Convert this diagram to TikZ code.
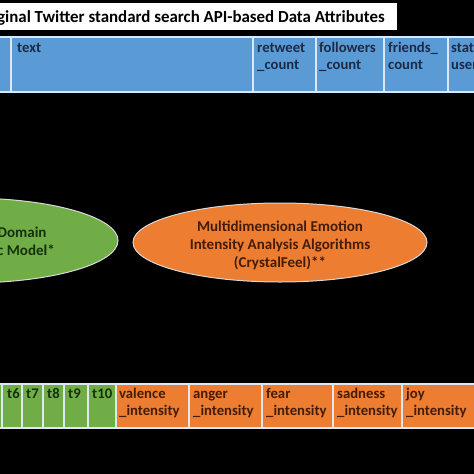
\documentclass[tikz,border=0pt]{standalone}
\usepackage{fontspec}
\setmainfont{Carlito}
\usetikzlibrary{shapes.geometric,fit}
\definecolor{tblue}{HTML}{5B9BD5}
\definecolor{tgreen}{HTML}{70AD47}
\definecolor{torange}{HTML}{ED7D31}
\definecolor{navytext}{HTML}{1C2A47}
\definecolor{greentext}{HTML}{16300C}
\definecolor{browntext}{HTML}{451C04}
\definecolor{sepline}{HTML}{DDE8F4}
\begin{document}
\begin{tikzpicture}[x=1pt,y=-1pt,
  cellbase/.style={inner sep=0pt, outer sep=0pt, draw=sepline, line width=1.2pt},
  bluecell/.style={cellbase, fill=tblue},
  greencell/.style={cellbase, fill=tgreen},
  orangecell/.style={cellbase, fill=torange},
  celltext/.style={anchor=base west, inner sep=0pt, align=left, font=\bfseries\fontsize{14.7}{17}\selectfont},
  bluetext/.style={celltext, text=navytext},
  greentext/.style={celltext, text=greentext},
  orangetext/.style={celltext, text=browntext},
  ovalbase/.style={ellipse, inner sep=0pt, draw=white!85!black, line width=1pt},
  ovaltext/.style={font=\bfseries\fontsize{15}{18.3}\selectfont, align=center, inner sep=0pt}
]
\useasboundingbox (0,0) rectangle (474,474);
\clip (0,0) rectangle (474,474);
\fill[black] (0,0) rectangle (474,474);

% title box
\node[fill=white, inner sep=0pt, fit={(-5,2.5) (397,30)}] (titlebox) {};
\node[anchor=base east, inner sep=0pt, font=\bfseries\fontsize{16.9}{20}\selectfont] (title) at (385,22) {ginal Twitter standard search API-based Data Attributes};

% blue row
\node[bluecell, fit={(-5,37) (11,92)}] (b1) {};
\node[bluecell, fit={(11,37) (253,92)}] (b2) {};
\node[bluecell, fit={(253,37) (316,92)}] (b3) {};
\node[bluecell, fit={(316,37) (384,92)}] (b4) {};
\node[bluecell, fit={(384,37) (448,92)}] (b5) {};
\node[bluecell, fit={(448,37) (480,92)}] (b6) {};
\node[bluetext] (tb2) at ([shift={(6,15.6)}]b2.north west) {text};
\node[bluetext] (tb3) at ([shift={(4,32.6)}]b3.north west) {retweet\\\_count};
\node[bluetext] (tb4) at ([shift={(3,32.6)}]b4.north west) {followers\\\_count};
\node[bluetext] (tb5) at ([shift={(4,32.6)}]b5.north west) {friends\_\\count};
\node[bluetext] (tb6) at ([shift={(3,32.6)}]b6.north west) {stat\\user};

% ellipses
\node[ovalbase, fill=tgreen, minimum width=300pt, minimum height=85pt] (green) at (-32,240.5) {};
\node[anchor=base east, inner sep=0pt, font=\bfseries\fontsize{15}{18}\selectfont, text=greentext] (gt1) at (46.7,237.5) {Domain};
\node[anchor=base east, inner sep=0pt, font=\bfseries\fontsize{15}{18}\selectfont, text=greentext] (gt2) at (55,255) {c Model*};
\node[ovalbase, fill=torange, minimum width=294pt, minimum height=79pt] (orange) at (280,242.5) {};
\node[ovaltext, text=browntext] (ot) at ([yshift=-3pt]orange.center) {Multidimensional Emotion\\Intensity Analysis Algorithms\\(CrystalFeel)**};

% bottom row
\node[greencell, fit={(-5,384) (2,428)}] (g0) {};
\node[greencell, fit={(2,384) (22,428)}] (g6) {};
\node[greencell, fit={(22,384) (43,428)}] (g7) {};
\node[greencell, fit={(43,384) (64,428)}] (g8) {};
\node[greencell, fit={(64,384) (88,428)}] (g9) {};
\node[greencell, fit={(88,384) (116,428)}] (g10) {};
\node[orangecell, fit={(116,384) (189,428)}] (o1) {};
\node[orangecell, fit={(189,384) (262,428)}] (o2) {};
\node[orangecell, fit={(262,384) (333,428)}] (o3) {};
\node[orangecell, fit={(333,384) (402,428)}] (o4) {};
\node[orangecell, fit={(402,384) (480,428)}] (o5) {};
\node[greentext] (tg6) at ([shift={(5,14.3)}]g6.north west) {t6};
\node[greentext] (tg7) at ([shift={(4,14.3)}]g7.north west) {t7};
\node[greentext] (tg8) at ([shift={(4,14.3)}]g8.north west) {t8};
\node[greentext] (tg9) at ([shift={(4,14.3)}]g9.north west) {t9};
\node[greentext] (tg10) at ([shift={(4,14.3)}]g10.north west) {t10};
\node[orangetext] (to1) at ([shift={(3,31.3)}]o1.north west) {valence\\\_intensity};
\node[orangetext] (to2) at ([shift={(4,31.3)}]o2.north west) {anger\\\_intensity};
\node[orangetext] (to3) at ([shift={(4,31.3)}]o3.north west) {fear\\\_intensity};
\node[orangetext] (to4) at ([shift={(4,31.3)}]o4.north west) {sadness\\\_intensity};
\node[orangetext] (to5) at ([shift={(4,31.3)}]o5.north west) {joy\\\_intensity};
\end{tikzpicture}
\end{document}
